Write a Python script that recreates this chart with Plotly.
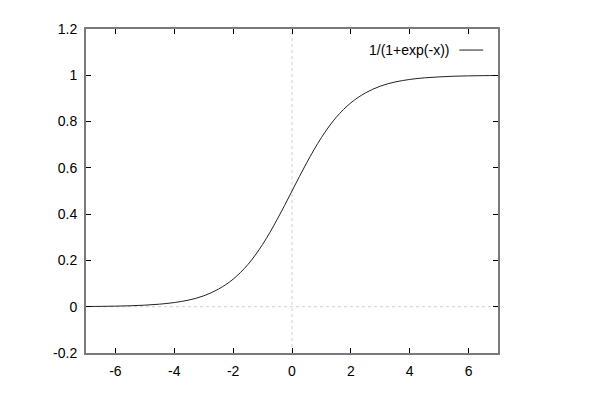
import plotly.graph_objects as go

# values
x_vals = [-7, -6.5, -6, -5.5, -5, -4.5, -4, -3.5, -3, -2.5, -2, -1.5, -1, -0.5,
          0, 0.5, 1, 1.5, 2, 2.5, 3, 3.5, 4, 4.5, 5, 5.5, 6, 6.5, 7]
y_vals = [0.0009, 0.0015, 0.0025, 0.0041, 0.0067, 0.011, 0.018, 0.029, 0.047, 0.076,
          0.119, 0.182, 0.269, 0.378, 0.5, 0.622, 0.731, 0.818, 0.881, 0.924,
          0.953, 0.971, 0.982, 0.989, 0.993, 0.996, 0.9975, 0.9985, 0.9991]
series_name = "1/(1+exp(-x))"
x_ticks = [-6, -4, -2, 0, 2, 4, 6]
x_tick_text = ["-6", "-4", "-2", "0", "2", "4", "6"]
y_ticks = [-0.2, 0, 0.2, 0.4, 0.6, 0.8, 1, 1.2]
y_tick_text = ["-0.2", "0", "0.2", "0.4", "0.6", "0.8", "1", "1.2"]

FONT = dict(family="Liberation Sans, Arial", size=14, color="#000")

fig = go.Figure()
fig.add_trace(go.Scatter(x=x_vals, y=y_vals, mode="lines", name=series_name,
                         line=dict(color="#222222", width=1, shape="spline"),
                         showlegend=False))

axis_common = dict(showline=True, linecolor="#7a7a7a", linewidth=2, mirror="ticks",
                   ticks="inside", ticklen=5, tickwidth=1, tickcolor="#000000",
                   showgrid=False, zeroline=False, automargin=False, tickfont=FONT)

fig.update_xaxes(range=[-7, 7], tickvals=x_ticks, ticktext=x_tick_text,
                 ticklabelstandoff=4, **axis_common)
fig.update_yaxes(range=[-0.2, 1.2], tickvals=y_ticks, ticktext=y_tick_text,
                 ticklabelstandoff=4, **axis_common)

# zero axes (dotted light gray)
fig.add_shape(type="line", xref="x", yref="paper", x0=0, x1=0, y0=0, y1=1,
              line=dict(color="#d0d0d0", width=1, dash="dot"), layer="below")
fig.add_shape(type="line", xref="paper", yref="y", x0=0, x1=1, y0=0, y1=0,
              line=dict(color="#d0d0d0", width=1, dash="dot"), layer="below")

# gnuplot-style key: text then sample line
fig.add_annotation(xref="paper", yref="paper", x=0.888, y=0.935, xanchor="right",
                   yanchor="middle", text=series_name, showarrow=False, font=FONT)
fig.add_shape(type="line", xref="paper", yref="paper", x0=0.906, x1=0.964,
              y0=0.935, y1=0.935, line=dict(color="#222222", width=1))

fig.update_layout(width=594, height=413, paper_bgcolor="white", plot_bgcolor="white",
                  margin=dict(l=78, r=104, t=21, b=68), showlegend=False)

fig.write_html("out.html")
